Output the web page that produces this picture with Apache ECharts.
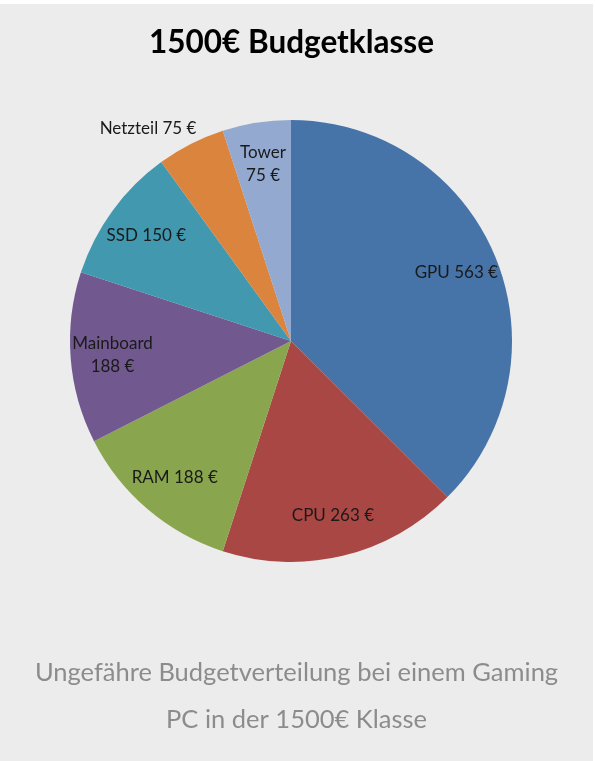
<!DOCTYPE html>
<html>
<head>
<meta charset="utf-8">
<script src="https://cdn.jsdelivr.net/npm/echarts@6/dist/echarts.min.js"></script>
<style>
  html, body { margin: 0; padding: 0; background: #fff; }
  #chart-panel { position: absolute; left: 0; top: 4px; width: 593px; height: 757px; }
</style>
</head>
<body>
<div id="chart-panel"></div>
<script>
// Budgetverteilung 1500€ Gaming PC
var names = ['GPU', 'CPU', 'RAM', 'Mainboard', 'SSD', 'Netzteil', 'Tower'];
var values = [563, 263, 188, 188, 150, 75, 75];
var colors = ['#4674a8', '#a94744', '#89a54e', '#71588f', '#4198af', '#db843d', '#93a9cf'];
var twoLines = ['Mainboard', 'Tower'];   // Beschriftung umbrechen
var outsideLabel = ['Netzteil'];         // Beschriftung ausserhalb

var myChart = echarts.init(document.getElementById('chart-panel'));

function labelText(p) {
    var sep = twoLines.indexOf(p.name) >= 0 ? '\n' : ' ';
    return p.name + sep + p.value + ' €';
}

var pieData = names.map(function (n, i) {
    var item = { name: n, value: values[i], itemStyle: { color: colors[i] } };
    if (outsideLabel.indexOf(n) >= 0) {
        item.label = { show: true, position: 'outside', distanceToLabelLine: 0 };
    }
    return item;
});

// unsichtbarer Ring nur fuer die inneren Beschriftungen
var labelData = names.map(function (n, i) {
    return {
        name: n, value: values[i],
        label: { show: outsideLabel.indexOf(n) < 0 }
    };
});

var labelFont = {
    fontFamily: 'Lato',
    fontSize: 17,
    color: '#1a1a1a',
    lineHeight: 23,
    formatter: labelText
};

var option = {
    backgroundColor: '#ececec',
    animation: false,
    title: [{
        text: '1500€ Budgetklasse',
        left: 149,
        top: 20,
        padding: 0,
        textStyle: { fontFamily: 'Lato', fontWeight: 'bold', fontSize: 31.5, color: '#000', lineHeight: 38 }
    }, {
        text: 'Ungefähre Budgetverteilung bei einem Gaming\nPC in der 1500€ Klasse',
        left: 'center',
        top: 640,
        padding: [5, 10, 5, 0],
        textStyle: { fontFamily: 'Lato', fontWeight: 'normal', fontSize: 25.5, color: '#8c8c8c', lineHeight: 47, align: 'center' }
    }],
    series: [{
        name: 'Budget',
        type: 'pie',
        center: [291, 337],
        radius: 221,
        startAngle: 90,
        clockwise: true,
        silent: true,
        avoidLabelOverlap: false,
        label: Object.assign({ show: false }, labelFont),
        labelLine: { show: false, length: 14, length2: 0 },
        labelLayout: { dx: 12, dy: -3 },
        itemStyle: { borderWidth: 0 },
        data: pieData
    }, {
        name: 'Beschriftung',
        type: 'pie',
        center: [291, 337],
        radius: [150, 202],
        startAngle: 90,
        clockwise: true,
        silent: true,
        z: 5,
        avoidLabelOverlap: false,
        label: Object.assign({ position: 'inside' }, labelFont),
        labelLine: { show: false },
        itemStyle: { color: 'transparent', borderWidth: 0 },
        data: labelData
    }]
};
myChart.setOption(option);
</script>
</body>
</html>
